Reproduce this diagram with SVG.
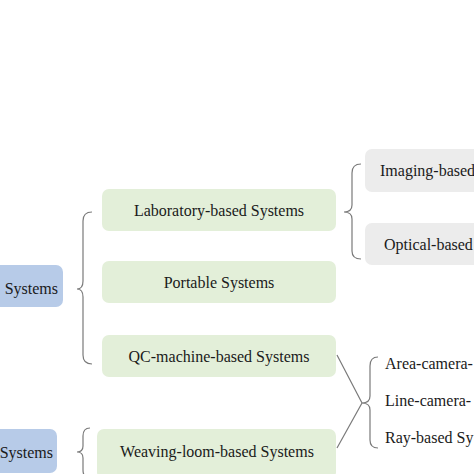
<svg xmlns="http://www.w3.org/2000/svg" width="474" height="474" viewBox="0 0 474 474">
<style>
text{font-family:"Liberation Serif","Times New Roman",serif;font-size:16px;fill:#1a1a1a}
.blue{fill:#b7cbe8}
.green{fill:#e3efd9}
.gray{fill:#ececec}
.br{fill:none;stroke:#7a7a7a;stroke-width:1.2}
</style>
<rect width="474" height="474" fill="#fff"/>
<g id="root1"><rect class="blue" x="-10" y="265" width="73" height="42" rx="7"/><text x="58" y="294" text-anchor="end">Systems</text></g>
<g id="root2"><rect class="blue" x="-10" y="429" width="67" height="44" rx="7"/><text x="53" y="458" text-anchor="end">Systems</text></g>
<g id="lab"><rect class="green" x="102" y="189" width="234" height="42" rx="7"/><text x="219" y="216" text-anchor="middle">Laboratory-based Systems</text></g>
<g id="portable"><rect class="green" x="102" y="261" width="234" height="42" rx="7"/><text x="219" y="288" text-anchor="middle">Portable Systems</text></g>
<g id="qc"><rect class="green" x="102" y="335" width="234" height="42" rx="7"/><text x="219" y="362" text-anchor="middle">QC-machine-based Systems</text></g>
<g id="loom"><rect class="green" x="97" y="429" width="239" height="50" rx="7"/><text x="217" y="457" text-anchor="middle">Weaving-loom-based Systems</text></g>
<g id="imaging"><rect class="gray" x="365" y="149" width="120" height="43" rx="7"/><text x="380" y="176">Imaging-based</text></g>
<g id="optical"><rect class="gray" x="365" y="223" width="120" height="42" rx="7"/><text x="384" y="250">Optical-based</text></g>
<g id="area"><text x="385" y="369">Area-camera-</text></g>
<g id="line"><text x="385" y="406">Line-camera-</text></g>
<g id="ray"><text x="385" y="443">Ray-based Sy</text></g>
<g id="connectors">
<path class="br" d="M92,212 Q83,212 83,221 L83,281 Q83,289 77,289 Q83,289 83,297 L83,355 Q83,364 92,364"/>
<path class="br" d="M90,428 Q83,428 83,436 L83,446 Q83,452 77,452 Q83,452 83,458 L83,470 Q83,478 90,478"/>
<path class="br" d="M361,164 Q352,164 352,173 L352,205 Q352,212 344,212 Q352,212 352,219 L352,251 Q352,259 361,259"/>
<path class="br" d="M378,357 Q370,357 370,366 L370,396 Q370,403 362,403 Q370,403 370,410 L370,440 Q370,448 378,448"/>
<path class="br" d="M337,355 L362,403 L337,448"/>
</g>
</svg>
